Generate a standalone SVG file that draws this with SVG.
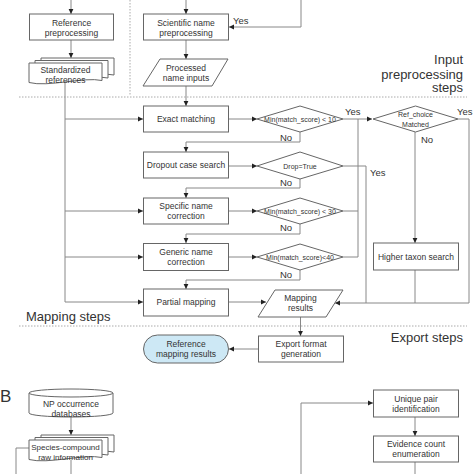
<svg xmlns="http://www.w3.org/2000/svg" width="474" height="474" viewBox="0 0 474 474">
<style>
.box{fill:#fff;stroke:#666;stroke-width:1}
.ln{fill:none;stroke:#888;stroke-width:1}
.arr{marker-end:url(#a)}
.dot{fill:none;stroke:#aaa;stroke-width:1;stroke-dasharray:1.5 1.5}
text{font-family:"Liberation Sans",Arial,sans-serif;fill:#333}
.t{font-size:8.5px;text-anchor:middle}
.s{font-size:7px;text-anchor:middle}
.l{font-size:9.5px}
.sec{font-size:13px}
.end{text-anchor:end}
</style>
<defs>
<marker id="a" markerWidth="6" markerHeight="6" refX="5" refY="3" orient="auto" markerUnits="userSpaceOnUse"><path d="M0,0.6 L5,3 L0,5.4 z" fill="#222"/></marker>
</defs>
<rect width="474" height="474" fill="#fff"/>
<g id="dividers">
<path class="dot" d="M130,0 V96"/>
<path class="dot" d="M19,97 H467"/>
<path class="dot" d="M19,326 H467"/>
</g>
<g id="connectors">
<path class="ln arr" d="M71,0 V14"/>
<path class="ln arr" d="M71,40 V58"/>
<path class="ln arr" d="M186,0 V14"/>
<path class="ln arr" d="M301,0 V27 H229"/>
<path class="ln arr" d="M186,40 V59"/>
<path class="ln arr" d="M186,86 V106"/>
<path class="ln" d="M65,83 V302"/>
<path class="ln arr" d="M65,119 H143"/>
<path class="ln arr" d="M65,211 H143"/>
<path class="ln arr" d="M65,257 H143"/>
<path class="ln arr" d="M65,302 H143"/>
<path class="ln arr" d="M228,119 H257"/>
<path class="ln arr" d="M228,166 H257"/>
<path class="ln arr" d="M228,211 H257"/>
<path class="ln arr" d="M228,257 H257"/>
<path class="ln arr" d="M300,132 V142 H186 V152"/>
<path class="ln arr" d="M300,179 V188 H186 V198"/>
<path class="ln arr" d="M300,224 V234 H186 V243"/>
<path class="ln arr" d="M300,270 V280 H186 V289"/>
<path class="ln arr" d="M343,119 H372"/>
<path class="ln" d="M358,119 V257 H343"/>
<path class="ln" d="M358,211 H343"/>
<path class="ln" d="M343,166 H366 V303"/>
<path class="ln arr" d="M458,119 H469 V303 H335"/>
<path class="ln arr" d="M415,132 V243"/>
<path class="ln" d="M415,270 V303"/>
<path class="ln arr" d="M228,302 H266"/>
<path class="ln arr" d="M300.5,317 V336"/>
<path class="ln arr" d="M258,349 H229"/>
<path class="ln arr" d="M71,417 V435"/>
<path class="ln" d="M29,448 H16 V474"/>
<path class="ln" d="M71,460 V474"/>
<path class="ln arr" d="M301,474 V403 H373"/>
<path class="ln arr" d="M415,417 V436"/>
<path class="ln" d="M415,462 V474"/>
</g>
<g id="labels">
<text class="l" x="233" y="24">Yes</text>
<text class="l" x="345" y="115">Yes</text>
<text class="l" x="457" y="115">Yes</text>
<text class="l" x="370" y="176">Yes</text>
<text class="l" x="280" y="141">No</text>
<text class="l" x="280" y="186">No</text>
<text class="l" x="280" y="231">No</text>
<text class="l" x="280" y="278">No</text>
<text class="l" x="421" y="143">No</text>
</g>
<g id="sections">
<text class="sec end" x="463" y="64">Input</text>
<text class="sec end" x="463" y="78.5">preprocessing</text>
<text class="sec end" x="463" y="92">steps</text>
<text class="sec" x="26" y="321">Mapping steps</text>
<text class="sec end" x="463" y="342">Export steps</text>
<text x="0" y="402" style="font-size:17px">B</text>
</g>
<g id="ref-preproc">
<rect class="box" x="29.5" y="14" width="84" height="26"/>
<text class="t" x="71.5" y="26">Reference</text>
<text class="t" x="71.5" y="36">preprocessing</text>
</g>
<g id="std-refs">
<path class="box" d="M41,58 H114 V75 C96,71 60,82 41,77 Z"/>
<path class="box" d="M35,60.5 H108 V78 C90,74 54,85 35,80 Z"/>
<path class="box" d="M29,63 H102 V80.5 C84,76.5 48,87.5 29,82.5 Z"/>
<text class="t" x="65.5" y="73">Standardized</text>
<text class="t" x="65.5" y="83">references</text>
</g>
<g id="sci-preproc">
<rect class="box" x="143.5" y="14" width="85" height="26"/>
<text class="t" x="186" y="26">Scientific name</text>
<text class="t" x="186" y="36">preprocessing</text>
</g>
<g id="processed-inputs">
<path class="box" d="M160,59 H228 L212,86 H143 Z"/>
<text class="t" x="186" y="71">Processed</text>
<text class="t" x="186" y="81">name inputs</text>
</g>
<g id="exact">
<rect class="box" x="143.5" y="106" width="85" height="26"/>
<text class="t" x="186" y="122">Exact matching</text>
</g>
<g id="dropout">
<rect class="box" x="143.5" y="152" width="85" height="26"/>
<text class="t" x="186" y="168">Dropout case search</text>
</g>
<g id="specific">
<rect class="box" x="143.5" y="198" width="85" height="26"/>
<text class="t" x="186" y="209">Specific name</text>
<text class="t" x="186" y="219">correction</text>
</g>
<g id="generic">
<rect class="box" x="143.5" y="243.5" width="85" height="27"/>
<text class="t" x="186" y="255">Generic name</text>
<text class="t" x="186" y="265">correction</text>
</g>
<g id="partial">
<rect class="box" x="143.5" y="289" width="85" height="27"/>
<text class="t" x="186" y="305">Partial mapping</text>
</g>
<g id="d1">
<path class="box" d="M300,106 L343,119 L300,132 L257,119 Z"/>
<text class="s" x="300" y="121.5">Min(match_score) &lt; 10</text>
</g>
<g id="d2">
<path class="box" d="M300,152 L343,166 L300,179 L257,166 Z"/>
<text class="s" x="300" y="168.5">Drop=True</text>
</g>
<g id="d3">
<path class="box" d="M300,198 L343,211 L300,224 L257,211 Z"/>
<text class="s" x="300" y="213.5">Min(match_score) &lt; 30</text>
</g>
<g id="d4">
<path class="box" d="M300,244 L343,257 L300,270 L257,257 Z"/>
<text class="s" x="300" y="259.5">Min(match_score)&lt;40</text>
</g>
<g id="refchoice">
<path class="box" d="M415.5,106 L458,119 L415.5,132 L373,119 Z"/>
<text class="s" x="415.5" y="117">Ref_choice</text>
<text class="s" x="415.5" y="127">Matched</text>
</g>
<g id="higher">
<rect class="box" x="373.5" y="243" width="85" height="27"/>
<text class="t" x="416" y="259.5">Higher taxon search</text>
</g>
<g id="mapping-results">
<path class="box" d="M275,290 H343 L326,317 H258 Z"/>
<text class="t" x="300.5" y="301">Mapping</text>
<text class="t" x="300.5" y="311">results</text>
</g>
<g id="export">
<rect class="box" x="258.5" y="336" width="85" height="26"/>
<text class="t" x="301" y="347">Export format</text>
<text class="t" x="301" y="357">generation</text>
</g>
<g id="ref-mapping-results">
<rect x="143.5" y="335" width="85" height="28" rx="14" ry="14" fill="#cde8f5" stroke="#666"/>
<text class="t" x="186" y="347">Reference</text>
<text class="t" x="186" y="357">mapping results</text>
</g>
<g id="np-db">
<path class="box" d="M29,393 V413 A42,4 0 0 0 113,413 V393"/>
<ellipse class="box" cx="71" cy="393" rx="42" ry="4"/>
<text class="t" x="71" y="407">NP occurrence</text>
<text class="t" x="71" y="417">databases</text>
</g>
<g id="species-raw">
<path class="box" d="M41,435 H114 V452 C96,448 60,459 41,454 Z"/>
<path class="box" d="M35,437.5 H108 V455 C90,451 54,462 35,457 Z"/>
<path class="box" d="M29,440 H102 V457.5 C84,453.5 48,464.5 29,459.5 Z"/>
<text class="t" x="65.5" y="450" style="font-size:8px">Species-compound</text>
<text class="t" x="65.5" y="460" style="font-size:8px">raw information</text>
</g>
<g id="unique-pair">
<rect class="box" x="373.5" y="390" width="85" height="27"/>
<text class="t" x="416" y="402">Unique pair</text>
<text class="t" x="416" y="412">identification</text>
</g>
<g id="evidence">
<rect class="box" x="373.5" y="436" width="85" height="26"/>
<text class="t" x="416" y="447">Evidence count</text>
<text class="t" x="416" y="457">enumeration</text>
</g>
</svg>
